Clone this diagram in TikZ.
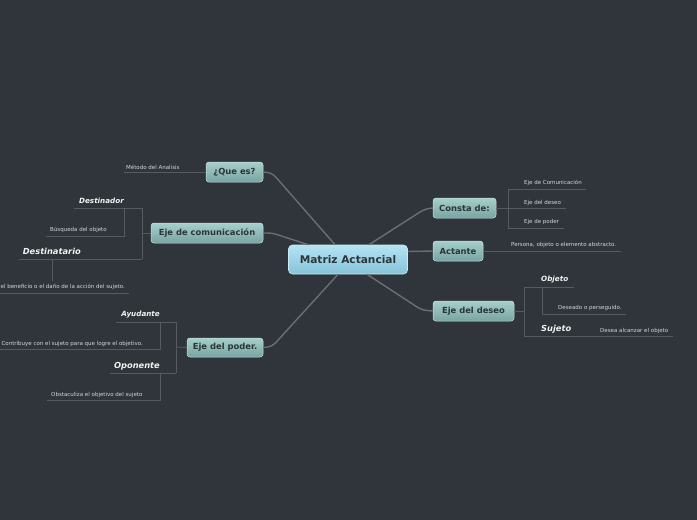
\documentclass[tikz,border=0pt]{standalone}
\usepackage{fontspec}
\setmainfont{DejaVu Sans}
\usetikzlibrary{calc}
\definecolor{bg}{HTML}{2F353A}
\definecolor{mainln}{HTML}{6C6F72}
\definecolor{thinln}{HTML}{555B60}
\definecolor{ctop}{HTML}{B4E3F4}
\definecolor{cbot}{HTML}{86C3D8}
\definecolor{stop}{HTML}{A6CFCB}
\definecolor{sbot}{HTML}{77A4A1}
\definecolor{ntext}{HTML}{2C3538}
\definecolor{ltext}{HTML}{D2D6D9}
\definecolor{wtext}{HTML}{F2F2F2}
\begin{document}
\begin{tikzpicture}[x=1pt,y=-1pt,
  central/.style={rounded corners=4pt, top color=ctop, bottom color=cbot, draw=ctop!70!white, line width=0.6pt,
    text=ntext, font=\fontsize{10.6}{12}\bfseries, minimum width=119pt, minimum height=29pt, inner sep=0pt},
  topic/.style={rounded corners=3pt, top color=stop, bottom color=sbot, draw=stop!60!white, line width=0.5pt,
    text=ntext, font=\fontsize{8.4}{10}\bfseries, minimum height=20pt, inner sep=0pt},
  mainline/.style={draw=mainln, line width=1.4pt, rounded corners=5pt},
  thinline/.style={draw=thinln, line width=0.8pt},
  tiny/.style={text=ltext, font=\fontsize{5.5}{6.5}\selectfont, inner sep=0pt},
  lab/.style={text=wtext, font=\fontsize{7.2}{8.5}\bfseries\itshape, inner sep=0pt},
  labb/.style={text=wtext, font=\fontsize{8.3}{10}\bfseries\itshape, inner sep=0pt}]
\fill[bg] (0,0) rectangle (697,520);
\useasboundingbox (0,0) rectangle (697,520);

% central and main topics
\node[central] (c) at (348,259.5) {Matriz Actancial};
\node[topic, minimum width=57pt] (qe) at (234.5,172) {¿Que es?};
\node[topic, minimum width=112pt] (ec) at (207,233) {Eje de comunicación};
\node[topic, minimum width=76pt, minimum height=19pt] (ep) at (225,347.5) {Eje del poder.};
\node[topic, minimum width=63pt] (cd) at (464.5,208) {Consta de:};
\node[topic, minimum width=50pt] (ac) at (458,251) {Actante};
\node[topic, minimum width=81pt] (ed) at (473.5,311) {Eje del deseo};

% main connectors
\draw[mainline] (qe.east) -- ++(9,1) -- ($(c.north)+(-13,0)$);
\draw[mainline] (ec.east) -- ++(9,0) -- ($(c.north west)+(20,0)$);
\draw[mainline] (ep.east) -- ++(9,-1) -- ($(c.south)+(-10,0)$);
\draw[mainline] (cd.west) -- ++(-8,1) -- ($(c.north)+(21,0)$);
\draw[mainline] (ac.west) -- ($(c.east)+(0,-8)$);
\draw[mainline] (ed.west) -- ++(-11,-1) -- ($(c.south)+(19,0)$);

% ¿Que es?
\node[tiny, anchor=west] (met) at (126,167) {Método del Analisis};
\coordinate (metl) at (124,172);
\draw[thinline] (qe.west) -- (metl);

% Eje de comunicación
\coordinate (ecj) at (142,233);
\coordinate (ecjt) at (142,208);
\coordinate (ecjb) at (142,259);
\draw[thinline] (ec.west) -- (ecj);
\draw[thinline] (ecjt) -- (ecjb);
\node[lab, anchor=east] (dor) at (124,201) {Destinador};
\coordinate (dorl) at (74,208);
\coordinate (dorr) at (124,208);
\draw[thinline] (ecjt) -- (dorl);
\node[tiny, anchor=west] (bus) at (50,230) {Búsqueda del objeto};
\coordinate (busl) at (46,236);
\draw[thinline] (dorr) |- (busl);
\node[labb, anchor=east] (tar) at (81,251) {Destinatario};
\coordinate (tarl) at (19,259);
\coordinate (tarm) at (52,259);
\coordinate (tarb) at (52,281);
\draw[thinline] (ecjb) -- (tarl);
\draw[thinline] (tarm) -- (tarb);
\node[tiny, anchor=east] (ben) at (125,287) {el beneficio o el daño de la acción del sujeto.};
\coordinate (benl) at (0,293);
\coordinate (benr) at (129,293);
\draw[thinline] (benl) -- (benr);

% Eje del poder.
\coordinate (epj) at (176,347);
\coordinate (epjt) at (176,322);
\coordinate (epjb) at (176,373);
\draw[thinline] (ep.west) -- (epj);
\draw[thinline] (epjt) -- (epjb);
\node[lab, anchor=east] (ayu) at (160,315) {Ayudante};
\coordinate (ayul) at (116,322);
\coordinate (ayur) at (160,322);
\draw[thinline] (epjt) -- (ayul);
\node[tiny, anchor=east] (con) at (143,344) {Contribuye con el sujeto para que logre el objetivo.};
\coordinate (conl) at (0,349);
\draw[thinline] (ayur) |- (conl);
\node[labb, anchor=east] (opo) at (160,366) {Oponente};
\coordinate (opol) at (110,373);
\coordinate (opor) at (160,373);
\draw[thinline] (epjb) -- (opol);
\node[tiny, anchor=west] (obs) at (51,395) {Obstaculiza el objetivo del sujeto};
\coordinate (obsl) at (47,400);
\draw[thinline] (opor) |- (obsl);

% Consta de:
\coordinate (cdj) at (508,208);
\coordinate (cdjt) at (508,189);
\coordinate (cdjb) at (508,228);
\draw[thinline] (cd.east) -- (cdj);
\draw[thinline] (cdjt) -- (cdjb);
\node[tiny, anchor=west] (c1) at (524,183) {Eje de Comunicación};
\node[tiny, anchor=west] (c2) at (524,203) {Eje del deseo};
\node[tiny, anchor=west] (c3) at (524,222) {Eje de poder};
\coordinate (c1r) at (586,189);
\coordinate (c2r) at (566,208);
\coordinate (c3r) at (564,228);
\draw[thinline] (cdjt) -- (c1r);
\draw[thinline] (cdj) -- (c2r);
\draw[thinline] (cdjb) -- (c3r);

% Actante
\node[tiny, anchor=west] (per) at (511,245) {Persona, objeto o elemento abstracto.};
\coordinate (perr) at (621,251);
\draw[thinline] (ac.east) -- (perr);

% Eje del deseo
\coordinate (edj) at (524,311);
\coordinate (edjt) at (524,287);
\coordinate (edjb) at (524,336);
\draw[thinline] (ed.east) -- (edj);
\draw[thinline] (edjt) -- (edjb);
\node[lab, anchor=west] (obj) at (541,280) {Objeto};
\coordinate (objr) at (574,287);
\coordinate (objm) at (542,287);
\draw[thinline] (edjt) -- (objr);
\node[tiny, anchor=west] (des) at (558,308) {Deseado o perseguido.};
\coordinate (desr) at (626,314.5);
\draw[thinline] (objm) |- (desr);
\node[labb, anchor=west] (suj) at (541,329) {Sujeto};
\node[tiny, anchor=west] (alc) at (600,331) {Desea alcanzar el objeto};
\coordinate (sujr) at (673,336);
\draw[thinline] (edjb) -- (sujr);
\end{tikzpicture}
\end{document}
